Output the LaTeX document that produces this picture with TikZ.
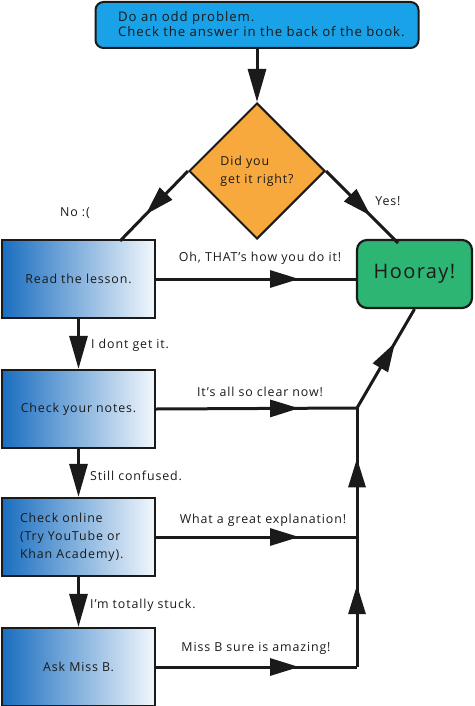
\documentclass[tikz,border=0pt]{standalone}
\usepackage{fontspec}
\setmainfont{Open Sans}[LetterSpace=7]
\usetikzlibrary{shapes.geometric,arrows.meta,decorations.markings}
\definecolor{topblue}{HTML}{1AA2E8}
\definecolor{qorange}{HTML}{F8A93E}
\definecolor{hgreen}{HTML}{2DB673}
\definecolor{gdark}{HTML}{1A6EC0}
\definecolor{glight}{HTML}{F2F7FC}
\definecolor{ink}{HTML}{1A1A1A}
\tikzset{
  lbl/.style={font=\fontsize{12.4}{15}\selectfont, text=ink, inner sep=0pt},
  stepbox/.style={draw=ink, line width=2.2pt, minimum width=153pt, minimum height=78pt,
    left color=gdark, right color=glight, font=\fontsize{12.4}{18}\selectfont, text=ink, inner sep=0pt},
  conn/.style={draw=ink, line width=3pt},
  endarrow/.style={conn, -{Triangle[length=33pt,width=18pt]}},
  midarrow/.style={conn, postaction={decorate},
    decoration={markings, mark=at position #1 with {\arrow{Triangle[length=29pt,width=17pt]}}}},
}
\begin{document}
\begin{tikzpicture}[x=1pt,y=-1pt]
\useasboundingbox (0,0) rectangle (474,706);
% top box
\node[draw=ink, line width=2pt, fill=topblue, rounded corners=8pt, minimum width=323pt, minimum height=46pt] (top) at (257,25) {};
\node[lbl, anchor=west, align=left, font=\fontsize{13.2}{15.5}\selectfont] (toptext) at (118,24) {Do an odd problem.\\Check the answer in the back of the book.};
% decision
\node[diamond, aspect=1, draw=ink, line width=2pt, fill=qorange, minimum width=136pt, minimum height=136pt, inner sep=0pt,
  align=left, font=\fontsize{12.4}{18}\selectfont, text=ink] (q) at (257,171) {Did you\\get it right?};
% hooray
\node[draw=ink, line width=2.2pt, fill=hgreen, rounded corners=10pt, minimum width=115pt, minimum height=68pt,
  font=\fontsize{20}{24}\selectfont, text=ink] (hooray) at (414.5,274) {Hooray!};
% steps
\node[stepbox] (read) at (78.5,279) {Read the lesson.};
\node[stepbox] (notes) at (78.5,409) {Check your notes.};
\node[stepbox, align=left, text width=117pt] (online) at (78.5,537) {Check online\\(Try YouTube or\\Khan Academy).};
\node[stepbox] (missb) at (78.5,667) {Ask Miss B.};
% coordinates
\coordinate (noend) at (120,241);
\coordinate (yesend) at (398,243);
\coordinate (j2) at (357,408);
\coordinate (j3) at (357,537);
\coordinate (j4) at (357,667);
% connectors
\draw[endarrow] (top.south -| q.north) -- (q.north);
\draw[midarrow=0.62] (q.west) -- (noend);
\draw[midarrow=0.62] (q.east) -- (yesend);
\draw[midarrow=143pt] (read.east) -- (read.east -| hooray.west);
\draw[midarrow=143pt] (notes.east) -- (j2);
\draw[midarrow=143pt] (online.east) -- (j3);
\draw[midarrow=143pt] (missb.east) -- (j4);
\draw[midarrow=0.63] (j4) -- (j3);
\draw[midarrow=0.61] (j3) -- (j2);
\draw[midarrow=0.66] (j2) -- (hooray.south);
\draw[endarrow] (read.south) -- (notes.north);
\draw[endarrow] (notes.south) -- (online.north);
\draw[endarrow] (online.south) -- (missb.north);
% labels
\node[lbl] (lno) at (75,213) {No :(};
\node[lbl] (lyes) at (388,201) {Yes!};
\node[lbl] (l1) at (260,258) {Oh, THAT’s how you do it!};
\node[lbl] (l2) at (260,392) {It’s all so clear now!};
\node[lbl] (l3) at (263,520) {What a great explanation!};
\node[lbl] (l4) at (256,648) {Miss B sure is amazing!};
\node[lbl, anchor=west] (d1) at (91,345) {I dont get it.};
\node[lbl, anchor=west] (d2) at (90,476) {Still confused.};
\node[lbl, anchor=west] (d3) at (90,605) {I’m totally stuck.};
\end{tikzpicture}
\end{document}
